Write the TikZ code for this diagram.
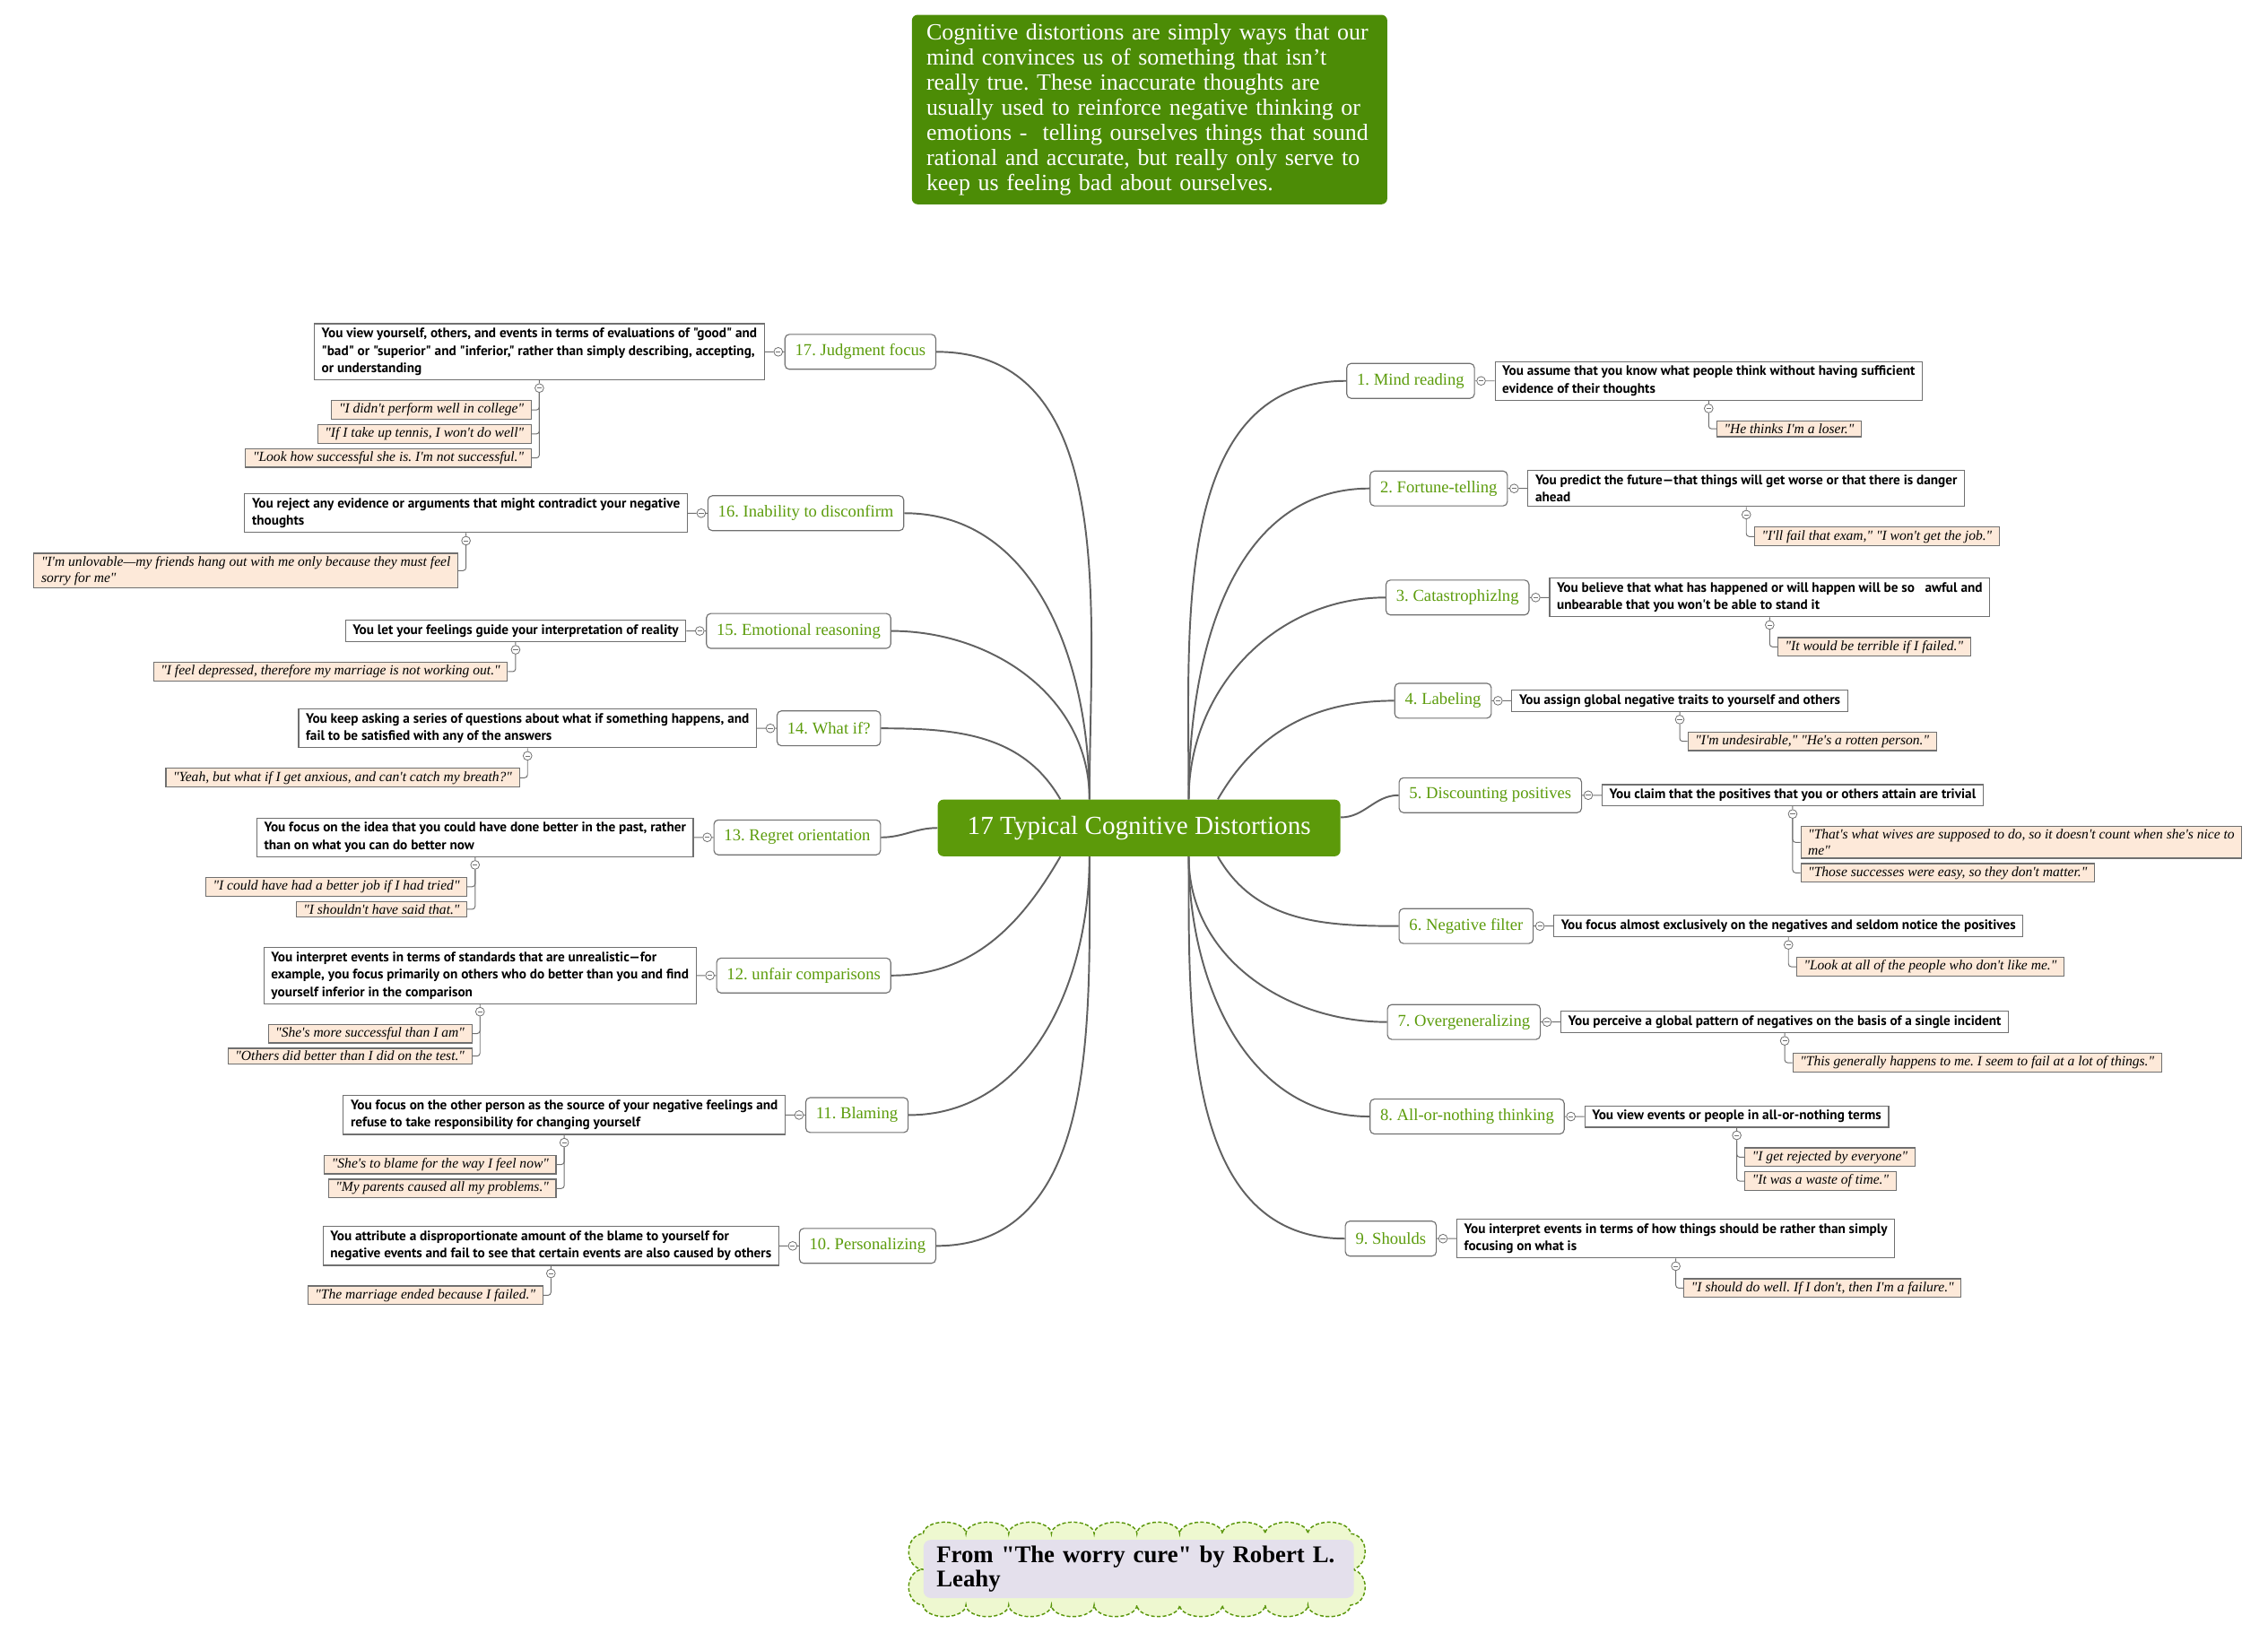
\documentclass[tikz,border=0pt]{standalone}
\usepackage{fontspec}
\setmainfont{Liberation Serif}[Ligatures=TeXOff]
\newfontfamily\descfont{PT Sans}[Ligatures=TeXOff]
\usetikzlibrary{positioning}
\frenchspacing

\definecolor{notegreen}{RGB}{76,140,6}
\definecolor{hubgreen}{RGB}{92,154,10}
\definecolor{topicgreen}{RGB}{92,156,12}
\definecolor{quotefill}{RGB}{253,233,217}
\definecolor{cloudfill}{RGB}{238,248,208}
\definecolor{cloudline}{RGB}{90,150,10}
\definecolor{sourcefill}{RGB}{228,224,236}
\definecolor{boxline}{RGB}{112,112,112}

\tikzset{
  branch/.style={draw=black!62, line width=1.2pt},
  leaf/.style={draw=boxline, line width=0.6pt, rounded corners=2pt},
  introbox/.style={fill=notegreen, text=white, rounded corners=4pt, anchor=north west,
    text width=307pt, inner xsep=10pt, inner ysep=6pt, align=left,
    font=\fontsize{16}{17.3}\selectfont},
  mainidea/.style={fill=hubgreen, text=white, rounded corners=4pt, minimum width=277pt,
    minimum height=39pt, font=\fontsize{18}{20}\selectfont},
  topic/.style={draw=boxline, fill=white, line width=0.7pt, rounded corners=3pt,
    minimum height=24pt, inner xsep=7pt, text=topicgreen, font=\fontsize{11.5}{13}\selectfont},
  descbox/.style={draw=boxline, fill=white, line width=0.7pt, align=left, inner xsep=5pt,
    inner ysep=3pt, font=\descfont\bfseries\fontsize{9.4}{12}\selectfont},
  quotebox/.style={draw=boxline, fill=quotefill, line width=0.7pt, align=left, inner xsep=5pt,
    inner ysep=2pt, font=\itshape\fontsize{9.6}{11}\selectfont},
  fold/.style={circle, draw=boxline, fill=white, line width=0.5pt, minimum size=6pt, inner sep=0pt,
    path picture={\draw[boxline, line width=0.4pt]
      ([xshift=-1.6pt]path picture bounding box.center) -- ([xshift=1.6pt]path picture bounding box.center);}},
  sourcebox/.style={fill=sourcefill, rounded corners=5pt, anchor=north west, text width=278pt,
    inner xsep=9pt, inner ysep=4pt, align=left, font=\bfseries\fontsize{16.5}{17}\selectfont},
}

\begin{document}
\begin{tikzpicture}[x=1pt,y=1pt]

  % fix the page to the size of the map
  \useasboundingbox (3,-3) rectangle (1563,-1126);

  % note at the top
  \node[introbox] (intro) at (630,-13) {Cognitive distortions are simply ways that our\\
    mind convinces us of something that isn’t\\
    really true. These inaccurate thoughts are\\
    usually used to reinforce negative thinking or\\
    emotions -\ \ telling ourselves things that sound\\
    rational and accurate, but really only serve to\\
    keep us feeling bad about ourselves.};

  % central topic
  \node[mainidea] (hub) at (786.5,-572.5) {17 Typical Cognitive Distortions};

  % distortions on the right
  \foreach \name/\x/\y/\txt in {t1/929/265/{1. Mind reading}, t2/945/339/{2. Fortune-telling},
      t3/956/414/{3. Catastrophizlng}, t4/962/485/{4. Labeling}, t5/965/550/{5. Discounting positives},
      t6/965/640/{6. Negative filter}, t7/957/706/{7. Overgeneralizing},
      t8/945/771/{8. All-or-nothing thinking}, t9/928/855/{9. Shoulds}}
    \node[topic, anchor=west] (\name) at (\x,-\y) {\txt};

  % distortions on the left
  \foreach \name/\x/\y/\txt in {t17/647/245/{17. Judgment focus}, t16/625/356/{16. Inability to disconfirm},
      t15/616/437/{15. Emotional reasoning}, t14/609/504/{14. What if?}, t13/609/579/{13. Regret orientation},
      t12/616/674/{12. unfair comparisons}, t11/628/770/{11. Blaming}, t10/647/860/{10. Personalizing}}
    \node[topic, anchor=east] (\name) at (\x,-\y) {\txt};

  % branches from the central topic
  \foreach \name/\a/\o in {t1/30/90, t2/30/90, t3/30/90, t4/20/60, t5/3/0,
      t6/340/-60, t7/330/-90, t8/330/-90, t9/330/-90}
    \draw[branch] (hub.\a) to[out=\o, in=180] (\name);
  \foreach \name/\a/\o in {t17/150/90, t16/150/90, t15/150/90, t14/160/120,
      t13/180/180, t12/200/-120, t11/210/-90, t10/210/-90}
    \draw[branch] (hub.\a) to[out=\o, in=0] (\name);

  % 1. mind reading
  \node[fold, right=1pt of t1] (f1) {};
  \node[descbox, right=6pt of f1] (d1) {You assume that you know what people think without having sufficient\\evidence of their thoughts};
  \node[fold, below=2pt of d1] (g1) {};
  \node[quotebox, below right=6pt and 3pt of g1] (q1) {"He thinks I'm a loser."};
  \draw[leaf] (t1) -- (f1) -- (d1) -- (g1) |- (q1);

  % 2. fortune-telling
  \node[fold, right=1pt of t2] (f2) {};
  \node[descbox, right=6pt of f2] (d2) {You predict the future—that things will get worse or that there is danger\\ahead};
  \node[fold, below=2pt of d2] (g2) {};
  \node[quotebox, below right=6pt and 3pt of g2] (q2) {"I'll fail that exam," "I won't get the job."};
  \draw[leaf] (t2) -- (f2) -- (d2) -- (g2) |- (q2);

  % 3. catastrophizing
  \node[fold, right=1pt of t3] (f3) {};
  \node[descbox, right=6pt of f3] (d3) {You believe that what has happened or will happen will be so\ \ \ awful and\\unbearable that you won't be able to stand it};
  \node[fold, below=2pt of d3] (g3) {};
  \node[quotebox, below right=6pt and 3pt of g3] (q3) {"It would be terrible if I failed."};
  \draw[leaf] (t3) -- (f3) -- (d3) -- (g3) |- (q3);

  % 4. labeling
  \node[fold, right=1pt of t4] (f4) {};
  \node[descbox, right=6pt of f4] (d4) {You assign global negative traits to yourself and others};
  \node[fold, below=2pt of d4] (g4) {};
  \node[quotebox, below right=6pt and 3pt of g4] (q4) {"I'm undesirable," "He's a rotten person."};
  \draw[leaf] (t4) -- (f4) -- (d4) -- (g4) |- (q4);

  % 5. discounting positives
  \node[fold, right=1pt of t5] (f5) {};
  \node[descbox, right=6pt of f5] (d5) {You claim that the positives that you or others attain are trivial};
  \node[fold, below=2pt of d5] (g5) {};
  \node[quotebox, below right=6pt and 3pt of g5] (q5a) {"That's what wives are supposed to do, so it doesn't count when she's nice to\\me"};
  \node[quotebox, below=3pt of q5a.south west, anchor=north west] (q5b) {"Those successes were easy, so they don't matter."};
  \draw[leaf] (t5) -- (f5) -- (d5) -- (g5) |- (q5a);
  \draw[leaf] (g5) |- (q5b);

  % 6. negative filter
  \node[fold, right=1pt of t6] (f6) {};
  \node[descbox, right=6pt of f6] (d6) {You focus almost exclusively on the negatives and seldom notice the positives};
  \node[fold, below=2pt of d6] (g6) {};
  \node[quotebox, below right=6pt and 3pt of g6] (q6) {"Look at all of the people who don't like me."};
  \draw[leaf] (t6) -- (f6) -- (d6) -- (g6) |- (q6);

  % 7. overgeneralizing
  \node[fold, right=1pt of t7] (f7) {};
  \node[descbox, right=6pt of f7] (d7) {You perceive a global pattern of negatives on the basis of a single incident};
  \node[fold, below=2pt of d7] (g7) {};
  \node[quotebox, below right=6pt and 3pt of g7] (q7) {"This generally happens to me. I seem to fail at a lot of things."};
  \draw[leaf] (t7) -- (f7) -- (d7) -- (g7) |- (q7);

  % 8. all-or-nothing thinking
  \node[fold, right=1pt of t8] (f8) {};
  \node[descbox, right=6pt of f8] (d8) {You view events or people in all-or-nothing terms};
  \node[fold, below=2pt of d8] (g8) {};
  \node[quotebox, below right=6pt and 3pt of g8] (q8a) {"I get rejected by everyone"};
  \node[quotebox, below=3pt of q8a.south west, anchor=north west] (q8b) {"It was a waste of time."};
  \draw[leaf] (t8) -- (f8) -- (d8) -- (g8) |- (q8a);
  \draw[leaf] (g8) |- (q8b);

  % 9. shoulds
  \node[fold, right=1pt of t9] (f9) {};
  \node[descbox, right=6pt of f9] (d9) {You interpret events in terms of how things should be rather than simply\\focusing on what is};
  \node[fold, below=2pt of d9] (g9) {};
  \node[quotebox, below right=6pt and 3pt of g9] (q9) {"I should do well. If I don't, then I'm a failure."};
  \draw[leaf] (t9) -- (f9) -- (d9) -- (g9) |- (q9);

  % 17. judgment focus
  \node[fold, left=1pt of t17] (f17) {};
  \node[descbox, left=6pt of f17] (d17) {You view yourself, others, and events in terms of evaluations of "good" and\\"bad" or "superior" and "inferior," rather than simply describing, accepting,\\or understanding};
  \node[fold, below=2pt of d17] (g17) {};
  \node[quotebox, below left=6pt and 3pt of g17] (q17a) {"I didn't perform well in college"};
  \node[quotebox, below=3pt of q17a.south east, anchor=north east] (q17b) {"If I take up tennis, I won't do well"};
  \node[quotebox, below=3pt of q17b.south east, anchor=north east] (q17c) {"Look how successful she is. I'm not successful."};
  \draw[leaf] (t17) -- (f17) -- (d17) -- (g17) |- (q17a);
  \draw[leaf] (g17) |- (q17b);
  \draw[leaf] (g17) |- (q17c);

  % 16. inability to disconfirm
  \node[fold, left=1pt of t16] (f16) {};
  \node[descbox, left=6pt of f16] (d16) {You reject any evidence or arguments that might contradict your negative\\thoughts};
  \node[fold, below=2pt of d16] (g16) {};
  \node[quotebox, below left=6pt and 3pt of g16] (q16) {"I'm unlovable—my friends hang out with me only because they must feel\\sorry for me"};
  \draw[leaf] (t16) -- (f16) -- (d16) -- (g16) |- (q16);

  % 15. emotional reasoning
  \node[fold, left=1pt of t15] (f15) {};
  \node[descbox, left=6pt of f15] (d15) {You let your feelings guide your interpretation of reality};
  \node[fold, below=2pt of d15] (g15) {};
  \node[quotebox, below left=6pt and 3pt of g15] (q15) {"I feel depressed, therefore my marriage is not working out."};
  \draw[leaf] (t15) -- (f15) -- (d15) -- (g15) |- (q15);

  % 14. what if?
  \node[fold, left=1pt of t14] (f14) {};
  \node[descbox, left=6pt of f14] (d14) {You keep asking a series of questions about what if something happens, and\\fail to be satisfied with any of the answers};
  \node[fold, below=2pt of d14] (g14) {};
  \node[quotebox, below left=6pt and 3pt of g14] (q14) {"Yeah, but what if I get anxious, and can't catch my breath?"};
  \draw[leaf] (t14) -- (f14) -- (d14) -- (g14) |- (q14);

  % 13. regret orientation
  \node[fold, left=1pt of t13] (f13) {};
  \node[descbox, left=6pt of f13] (d13) {You focus on the idea that you could have done better in the past, rather\\than on what you can do better now};
  \node[fold, below=2pt of d13] (g13) {};
  \node[quotebox, below left=6pt and 3pt of g13] (q13a) {"I could have had a better job if I had tried"};
  \node[quotebox, below=3pt of q13a.south east, anchor=north east] (q13b) {"I shouldn't have said that."};
  \draw[leaf] (t13) -- (f13) -- (d13) -- (g13) |- (q13a);
  \draw[leaf] (g13) |- (q13b);

  % 12. unfair comparisons
  \node[fold, left=1pt of t12] (f12) {};
  \node[descbox, left=6pt of f12] (d12) {You interpret events in terms of standards that are unrealistic—for\\example, you focus primarily on others who do better than you and find\\yourself inferior in the comparison};
  \node[fold, below=2pt of d12] (g12) {};
  \node[quotebox, below left=6pt and 3pt of g12] (q12a) {"She's more successful than I am"};
  \node[quotebox, below=3pt of q12a.south east, anchor=north east] (q12b) {"Others did better than I did on the test."};
  \draw[leaf] (t12) -- (f12) -- (d12) -- (g12) |- (q12a);
  \draw[leaf] (g12) |- (q12b);

  % 11. blaming
  \node[fold, left=1pt of t11] (f11) {};
  \node[descbox, left=6pt of f11] (d11) {You focus on the other person as the source of your negative feelings and\\refuse to take responsibility for changing yourself};
  \node[fold, below=2pt of d11] (g11) {};
  \node[quotebox, below left=6pt and 3pt of g11] (q11a) {"She's to blame for the way I feel now"};
  \node[quotebox, below=3pt of q11a.south east, anchor=north east] (q11b) {"My parents caused all my problems."};
  \draw[leaf] (t11) -- (f11) -- (d11) -- (g11) |- (q11a);
  \draw[leaf] (g11) |- (q11b);

  % 10. personalizing
  \node[fold, left=1pt of t10] (f10) {};
  \node[descbox, left=6pt of f10] (d10) {You attribute a disproportionate amount of the blame to yourself for\\negative events and fail to see that certain events are also caused by others};
  \node[fold, below=2pt of d10] (g10) {};
  \node[quotebox, below left=6pt and 3pt of g10] (q10) {"The marriage ended because I failed."};
  \draw[leaf] (t10) -- (f10) -- (d10) -- (g10) |- (q10);

  % source of the list, in a cloud
  \draw[cloudline, fill=cloudfill, line width=0.9pt, dash pattern=on 2.5pt off 1.5pt] (638,-1058)
    \foreach \i in {1,...,10} { arc[start angle=180, end angle=0, x radius=14.7, y radius=8] }
    arc[start angle=90, end angle=-90, x radius=10, y radius=12.25]
    arc[start angle=90, end angle=-90, x radius=10, y radius=12.25]
    \foreach \i in {1,...,10} { arc[start angle=0, end angle=-180, x radius=14.7, y radius=8] }
    arc[start angle=270, end angle=90, x radius=10, y radius=12.25]
    arc[start angle=270, end angle=90, x radius=10, y radius=12.25] -- cycle;
  \node[sourcebox] (source) at (638,-1062) {From "The worry cure" by Robert L.\\Leahy};

\end{tikzpicture}
\end{document}
